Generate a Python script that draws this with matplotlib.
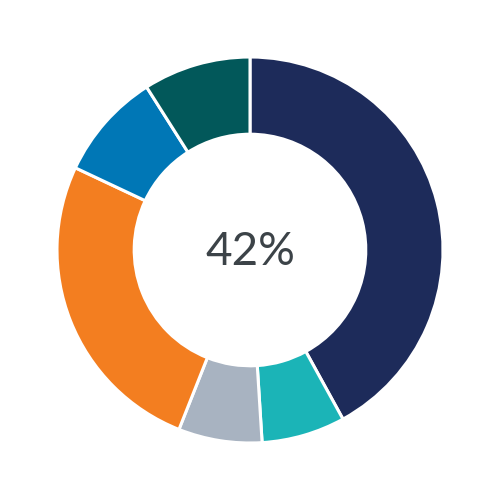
import matplotlib
matplotlib.use("Agg")
import matplotlib.pyplot as plt

labels = ["Navy", "Teal", "Gray", "Orange", "Blue", "Green"]
values = [42, 7, 7, 26, 9, 9]
colors = ["#1d2b5a", "#1bb4b7", "#a8b3c1", "#f37e20", "#0077b6", "#02585a"]
center_label = "42%"

fig = plt.figure(figsize=(5, 5), dpi=100)
ax = fig.add_axes([0, 0, 1, 1])
ax.pie(values, colors=colors, startangle=90, counterclock=False, radius=1.0,
       wedgeprops=dict(width=0.4, edgecolor="white", linewidth=2.2))
ax.text(0, -0.01, center_label, ha="center", va="center", fontsize=33,
        color="#3c4348", family=["Lato", "DejaVu Sans"])
lim = 250 / 193
ax.set_xlim(-lim, lim)
ax.set_ylim(-lim, lim)
ax.set_aspect("equal")
ax.axis("off")
fig.savefig("out.png", dpi=100, facecolor="white")
